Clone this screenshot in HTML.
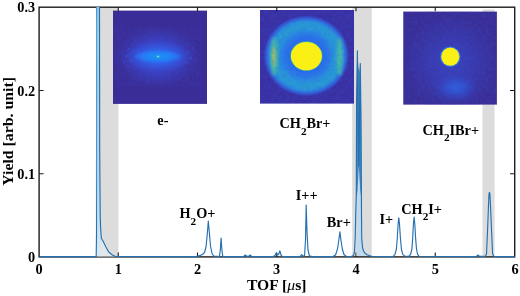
<!DOCTYPE html>
<html><head><meta charset="utf-8"><title>TOF spectrum</title>
<style>
html,body{margin:0;padding:0;background:#fff;}
svg{display:block;}
text{font-family:"Liberation Serif","Times New Roman",serif;font-weight:bold;fill:#000;}
</style></head><body>
<svg width="520" height="296" viewBox="0 0 520 296">
<defs>
<clipPath id="c2"><rect x="260" y="10" width="94" height="93.6"/></clipPath>
<clipPath id="ax"><rect x="39.6" y="7" width="475" height="251"/></clipPath>
<radialGradient id="g1h" cx="0.5" cy="0.5" r="0.5">
<stop offset="0" stop-color="#3850d8" stop-opacity="1"/>
<stop offset="0.5" stop-color="#3a44c8" stop-opacity="0.8"/>
<stop offset="0.8" stop-color="#3b38b0" stop-opacity="0.45"/>
<stop offset="1" stop-color="#3b2d97" stop-opacity="0"/>
</radialGradient>
<linearGradient id="pk1" x1="0" y1="0" x2="0" y2="1"><stop offset="0" stop-color="#9fcbe8"/><stop offset="0.6" stop-color="#b4d6ee"/><stop offset="0.85" stop-color="#c4dff2"/><stop offset="1" stop-color="#dce8f0"/></linearGradient>
<filter id="nz" x="0" y="0" width="100%" height="100%" color-interpolation-filters="sRGB"><feTurbulence type="fractalNoise" baseFrequency="0.28" numOctaves="2" seed="7" result="n"/><feColorMatrix in="n" type="matrix" values="0 0 0 0 0.19  0 0 0 0 0.36  0 0 0 0 0.9  1.6 0 0 0 -0.62"/></filter>
<linearGradient id="lg1" gradientUnits="userSpaceOnUse" x1="0" y1="0" x2="0" y2="236"><stop offset="0" stop-color="#3d88c4"/><stop offset="0.1" stop-color="#559bd0"/><stop offset="0.7" stop-color="#4d94cb"/><stop offset="1" stop-color="#2470b0"/></linearGradient>
<clipPath id="c3"><rect x="403.3" y="11.6" width="93.6" height="93"/></clipPath>
<filter id="b4" x="-150%" y="-30%" width="400%" height="160%"><feGaussianBlur stdDeviation="1"/></filter>
<filter id="b3" x="-100%" y="-30%" width="300%" height="160%"><feGaussianBlur stdDeviation="1.8"/></filter>
<radialGradient id="g1a" cx="0.5" cy="0.5" r="0.5">
<stop offset="0" stop-color="#2a78f2" stop-opacity="1"/>
<stop offset="0.4" stop-color="#2f68ee" stop-opacity="0.9"/>
<stop offset="0.75" stop-color="#3554de" stop-opacity="0.5"/>
<stop offset="1" stop-color="#3848d0" stop-opacity="0"/>
</radialGradient>
<radialGradient id="g1b" cx="0.5" cy="0.5" r="0.5">
<stop offset="0" stop-color="#1a92f2" stop-opacity="1"/>
<stop offset="0.55" stop-color="#2084f6" stop-opacity="0.9"/>
<stop offset="0.85" stop-color="#2878f2" stop-opacity="0.5"/>
<stop offset="1" stop-color="#2f6cf0" stop-opacity="0"/>
</radialGradient>
<radialGradient id="g1c" cx="0.5" cy="0.5" r="0.5">
<stop offset="0" stop-color="#b8f0c0" stop-opacity="1"/>
<stop offset="0.45" stop-color="#40d0c0" stop-opacity="0.9"/>
<stop offset="1" stop-color="#1e90f0" stop-opacity="0"/>
</radialGradient>
<radialGradient id="g2" cx="0.5" cy="0.5" r="0.5">
<stop offset="0" stop-color="#2a6ee8"/>
<stop offset="0.42" stop-color="#2a6ee8"/>
<stop offset="0.54" stop-color="#2a7ce6"/>
<stop offset="0.64" stop-color="#2892da"/>
<stop offset="0.76" stop-color="#289cd2"/>
<stop offset="0.85" stop-color="#2a90da"/>
<stop offset="0.915" stop-color="#3068dc"/>
<stop offset="0.965" stop-color="#3846c0"/>
<stop offset="1" stop-color="#3a30a2"/>
</radialGradient>
<radialGradient id="g3" cx="0.5" cy="0.5" r="0.5">
<stop offset="0" stop-color="#2e62e0" stop-opacity="0.9"/>
<stop offset="0.35" stop-color="#3058d8" stop-opacity="0.75"/>
<stop offset="0.65" stop-color="#364ac8" stop-opacity="0.42"/>
<stop offset="1" stop-color="#3a3cb4" stop-opacity="0"/>
</radialGradient>
<radialGradient id="g3h" cx="0.5" cy="0.5" r="0.5">
<stop offset="0" stop-color="#3a44c0" stop-opacity="0.95"/>
<stop offset="0.45" stop-color="#3a3cb2" stop-opacity="0.8"/>
<stop offset="0.8" stop-color="#3a34a2" stop-opacity="0.5"/>
<stop offset="1" stop-color="#3a2d95" stop-opacity="0"/>
</radialGradient>
<filter id="b1" x="-20%" y="-20%" width="140%" height="140%"><feGaussianBlur stdDeviation="0.6"/></filter>
<filter id="b2" x="-20%" y="-20%" width="140%" height="140%"><feGaussianBlur stdDeviation="2"/></filter>
</defs>
<rect x="0" y="0" width="520" height="296" fill="#ffffff"/>
<!-- gray bands -->
<g fill="#dcdcdc">
<rect x="97" y="7" width="21.4" height="250"/>
<rect x="352.2" y="7" width="19.6" height="250"/>
<rect x="482.5" y="9.5" width="12.1" height="247.5"/>
</g>
<!-- image 1 -->
<g>
<rect x="113" y="10.6" width="94" height="93.3" fill="#3b2d97"/>
<ellipse cx="158" cy="57" rx="45" ry="33" fill="url(#g1h)"/>
<ellipse cx="158" cy="56.5" rx="35" ry="16" fill="url(#g1a)"/>
<ellipse cx="158" cy="57" rx="44" ry="30" filter="url(#nz)" opacity="0.22"/>
<ellipse cx="158" cy="56.5" rx="25" ry="6.5" fill="url(#g1b)"/>
<ellipse cx="158.1" cy="56.5" rx="2.2" ry="1.8" fill="url(#g1c)"/>
<g fill="#3b62e6" opacity="0.75">
<circle cx="126.5" cy="56" r="0.9"/><circle cx="129" cy="49" r="0.8"/><circle cx="131" cy="61" r="0.8"/><circle cx="124" cy="62" r="0.7"/><circle cx="133" cy="45" r="0.7"/><circle cx="128" cy="66" r="0.7"/><circle cx="135" cy="40" r="0.6"/><circle cx="122" cy="52" r="0.6"/>
<circle cx="188" cy="52" r="0.8"/><circle cx="191" cy="58" r="0.8"/><circle cx="186" cy="63" r="0.7"/><circle cx="193" cy="48" r="0.7"/><circle cx="189" cy="44" r="0.6"/><circle cx="195" cy="61" r="0.6"/><circle cx="184" cy="69" r="0.6"/>
</g>
</g>
<!-- image 2 -->
<g>
<rect x="260" y="10" width="94" height="93.6" fill="#3a30a2"/>
<g clip-path="url(#c2)">
<ellipse cx="306.3" cy="55.8" rx="43" ry="40.5" fill="url(#g2)"/>
<ellipse cx="274.2" cy="56.5" rx="3.6" ry="19" fill="#4cbaa0" filter="url(#b3)" opacity="0.95"/>
<ellipse cx="339.6" cy="56.5" rx="3.2" ry="19" fill="#44baa6" filter="url(#b3)" opacity="0.95"/>
<ellipse cx="273.8" cy="56.5" rx="1.6" ry="10" fill="#b4bc5c" filter="url(#b4)" opacity="0.9"/>
</g>
<rect x="260" y="10" width="94" height="93.6" filter="url(#nz)" opacity="0.33"/>
<ellipse cx="306.4" cy="56.1" rx="16.1" ry="14.8" fill="#2fb0b0" filter="url(#b1)"/><ellipse cx="306.4" cy="56.1" rx="15.5" ry="14.2" fill="#faf016" filter="url(#b1)"/>
</g>
<!-- image 3 -->
<g>
<rect x="403.3" y="11.6" width="93.6" height="93" fill="#3a2d95"/>
<circle cx="451" cy="62" r="52" fill="url(#g3h)" clip-path="url(#c3)"/>
<ellipse cx="455.5" cy="87.5" rx="25" ry="16" fill="url(#g3)"/>
<rect x="403.3" y="11.6" width="93.6" height="93" filter="url(#nz)" opacity="0.28"/>
<circle cx="450.3" cy="56.7" r="10.3" fill="#2d74e6" filter="url(#b1)"/><circle cx="450.3" cy="56.7" r="9.1" fill="#faf016" filter="url(#b1)"/>
</g>
<!-- axes -->
<g stroke="#1c1c1c" stroke-width="1.1" fill="none">
<rect x="39.1" y="7.2" width="475.6" height="249.7" stroke-width="1.4"/>
<path d="M39,256.5h-0 M118.25,257v-4.5 M197.5,257v-4.5 M276.75,257v-4.5 M356,257v-4.5 M435.25,257v-4.5 M118.25,7v4.2 M197.5,7v4.2 M276.75,7v4.2 M356,7v4.2 M435.25,7v4.2 M39,173.7h4.6 M39,90.5h4.6 M514.6,173.7h-4.6 M514.6,90.5h-4.6"/>
</g>
<!-- curve -->
<g clip-path="url(#ax)">
<path d="M100.6,228 L101.4,238.5 L103,241 L106.2,247.5 L108.7,252 L112.4,255 L115.5,256.5 L100.6,256.5 Z" fill="#e3e7eb"/>
<path d="M96.6,7 L99.5,7 L99.7,150 L100.2,215 L100.6,228 L101.2,238.5 L101.2,256.5 L96.6,256.5 Z" fill="url(#pk1)"/>
<path d="M356.4,256 L356.5,110 L357.4,52 L358.8,166 L360.3,65 L361.2,140 L361.6,238 L362.6,248 L364.7,253 L368,256 Z" fill="#bcd8ee" opacity="0.9"/>
<path d="M356.4,200 L356.6,100 L357.4,51 L358.3,66 L359.3,72 L360.3,64 L361.1,110 L361.5,200 L360.2,190 L358.8,166 L357.6,190 Z" fill="#4486be"/>
<path d="M96.5,236 L96.65,0" stroke="url(#lg1)" stroke-width="1.15" fill="none"/>
<path id="curve" fill="none" stroke="#2470b0" stroke-width="1.15" stroke-linejoin="round" d="M39,256.6 L96.2,256.6 L96.5,235 M99.5,0 L99.7,150 L100.2,215 L100.6,228 L101.4,238.5 L103,241 L106.2,247.5 L108.7,252 L112.4,255 L115.5,256.5 L196,256.6 L199.5,255.6 L202,254.8 L204.5,252.5 L206,247 L207.3,234 L208.3,221 L209.3,232 L210.5,246 L212,253.5 L213.6,256 L219.4,256.6 L220.3,250 L221.1,238 L221.9,250 L222.8,256.6 L243.5,256.6 L245.2,255 L246.8,256.3 L248.7,256.3 L250.2,255 L251.8,256.6 L273,256.6 L275,255.5 L276.3,252.8 L277.5,255 L278.8,254 L279.9,250.8 L281,255 L282.5,256.6 L300,256.6 L301.6,254.5 L303,256.3 L304.6,255.5 L305.5,240 L306.2,205 L307,232 L308,250 L309.4,255.8 L312,256.6 L333,256.6 L335.5,255 L337.5,249 L339,239 L339.9,231.8 L340.8,239 L342.3,249 L344,254.5 L346,256.2 L351,256.5 L352.6,256 L353.6,255.2 L354.5,251.5 L355.2,238 L355.7,215 L356.3,195 L356.6,100 L357.4,50.8 L358,110 L358.8,166 L359.6,110 L360.3,63.6 L361,120 L361.5,215 L361.7,238 L362.6,248 L363.6,251 L364.7,252.9 L367,254.8 L371.5,256.3 L392,256.6 L393.3,256.2 L395,254.3 L396.4,249 L397.3,238 L398.1,224 L398.8,217.8 L399.5,224 L400.4,238 L401.4,249 L402.8,254.3 L404.8,256.2 L408.8,256.3 L410.6,254.3 L411.9,249 L412.7,238 L413.4,224 L414.1,217 L414.8,224 L415.6,238 L416.5,249 L417.6,254.3 L419.2,256.3 L476,256.6 L478,255 L479.5,256.4 L485.3,256.4 L486.5,254 L487.5,232 L488.4,208 L489,194 L489.45,192.3 L489.9,194 L490.6,208 L491.6,232 L492.6,254 L493.8,256.3 L497,256.6 L515,256.6"/>
</g>
<!-- tick labels -->
<g font-size="14.3" text-anchor="middle">
<text x="39" y="273.8">0</text><text x="118.3" y="273.8">1</text><text x="197.5" y="273.8">2</text><text x="276.5" y="273.8">3</text><text x="356" y="273.8">4</text><text x="435.3" y="273.8">5</text><text x="515" y="273.8">6</text>
</g>
<g font-size="14.3" text-anchor="end">
<text x="35.2" y="261.5">0</text><text x="35.2" y="178.6">0.1</text><text x="35.2" y="95.6">0.2</text><text x="35.2" y="12.1">0.3</text>
</g>
<text font-size="14.4" text-anchor="middle" transform="translate(276.7,290.4) scale(1.085,1)">TOF [<tspan font-style="italic" font-weight="normal">μ</tspan>s]</text>
<text font-size="14.4" text-anchor="middle" transform="translate(13,131.4) rotate(-90) scale(1.1,1)">Yield [arb. unit]</text>
<!-- annotations -->
<g font-size="14">
<text transform="translate(157.3,124.5) scale(1.02,1)">e-</text>
<text transform="translate(279.5,128) scale(1.02,1)">CH<tspan font-size="11" dy="6.8">2</tspan><tspan dy="-6.8">Br+</tspan></text>
<text transform="translate(422.5,134.5) scale(1.02,1)">CH<tspan font-size="11" dy="6.8">2</tspan><tspan dy="-6.8">IBr+</tspan></text>
<text transform="translate(179.5,217.9) scale(1.02,1)">H<tspan font-size="11" dy="6.8">2</tspan><tspan dy="-6.8">O+</tspan></text>
<text transform="translate(295.8,199.5) scale(1.02,1)">I++</text>
<text transform="translate(326.8,227) scale(1.02,1)">Br+</text>
<text transform="translate(379.4,224) scale(1.02,1)">I+</text>
<text transform="translate(401.3,213.5) scale(1.02,1)">CH<tspan font-size="11" dy="6.8">2</tspan><tspan dy="-6.8">I+</tspan></text>
</g>
</svg>
</body></html>
